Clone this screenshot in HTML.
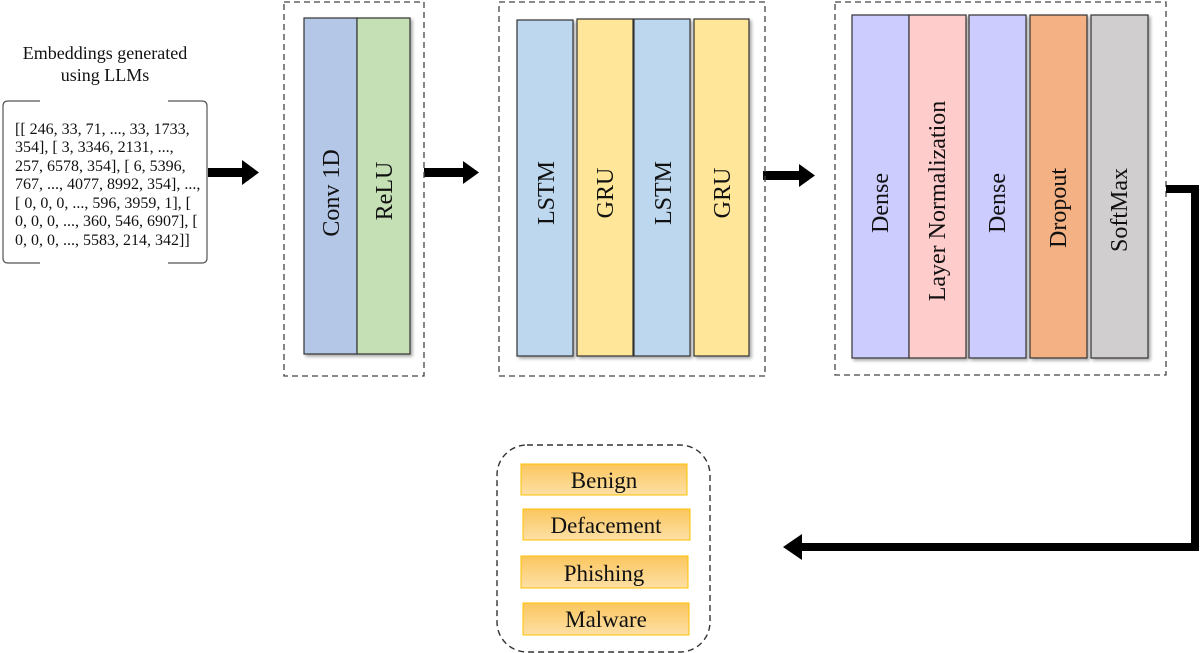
<!DOCTYPE html>
<html><head><meta charset="utf-8"><style>
html,body{margin:0;padding:0;background:#fff;}
svg{display:block;}
text{font-family:"Liberation Serif",serif;fill:#111;}
</style></head><body>
<svg width="1200" height="653" viewBox="0 0 1200 653" xmlns="http://www.w3.org/2000/svg">
<defs>
<linearGradient id="og" x1="0" y1="0" x2="0" y2="1"><stop offset="0" stop-color="#fbc65e"/><stop offset="1" stop-color="#fde0a6"/></linearGradient>
<filter id="sh" x="-10%" y="-5%" width="130%" height="110%"><feDropShadow dx="2" dy="2" stdDeviation="1.5" flood-color="#000" flood-opacity="0.35"/></filter>
</defs>
<!-- input -->
<text x="105" y="59" font-size="18" text-anchor="middle">Embeddings generated</text>
<text x="105" y="81" font-size="18" text-anchor="middle">using LLMs</text>
<path d="M40,101 L8,101 Q3,101 3,106 L3,258 Q3,263 8,263 L40,263" fill="none" stroke="#555" stroke-width="1.2"/>
<path d="M168,101 L202,101 Q207,101 207,106 L207,258 Q207,263 202,263 L168,263" fill="none" stroke="#555" stroke-width="1.2"/>
<g font-size="16" fill="#222">
<text x="15" y="134">[[ 246, 33, 71, ..., 33, 1733,</text>
<text x="15" y="152">354], [ 3, 3346, 2131, ...,</text>
<text x="15" y="171">257, 6578, 354], [ 6, 5396,</text>
<text x="15" y="189">767, ..., 4077, 8992, 354], ...,</text>
<text x="15" y="208">[ 0, 0, 0, ..., 596, 3959, 1], [</text>
<text x="15" y="226">0, 0, 0, ..., 360, 546, 6907], [</text>
<text x="15" y="245">0, 0, 0, ..., 5583, 214, 342]]</text>
</g>
<!-- arrows -->
<g fill="#000">
<rect x="208" y="168" width="36" height="9"/><polygon points="242,160 259,172.5 242,185"/>
<rect x="424" y="168" width="40" height="9"/><polygon points="463,161 479,172.5 463,184"/>
<rect x="763" y="171" width="38" height="9"/><polygon points="799,164 815,175.5 799,187"/>
</g>
<!-- box1 -->
<rect x="284" y="2" width="140" height="374" fill="none" stroke="#444" stroke-width="1.3" stroke-dasharray="6,4"/>
<g filter="url(#sh)" stroke="#333" stroke-width="1.2">
<rect x="304" y="18" width="53" height="336" fill="#b4c7e7"/>
<rect x="357" y="18" width="53" height="336" fill="#c5e0b4"/>
</g>
<g font-size="24" text-anchor="middle">
<text transform="translate(339,193) rotate(-90)">Conv 1D</text>
<text transform="translate(392,191) rotate(-90)">ReLU</text>
</g>
<!-- box2 -->
<rect x="499" y="2" width="266" height="374" fill="none" stroke="#444" stroke-width="1.3" stroke-dasharray="6,4"/>
<g filter="url(#sh)" stroke="#333" stroke-width="1.2">
<rect x="517" y="20" width="56" height="336" fill="#bdd7ee"/>
<rect x="577" y="19" width="56" height="337" fill="#ffe699"/>
<rect x="634" y="19" width="56" height="337" fill="#bdd7ee"/>
<rect x="694" y="19" width="55" height="337" fill="#ffe699"/>
</g>
<g font-size="24" text-anchor="middle">
<text transform="translate(554,193) rotate(-90)">LSTM</text>
<text transform="translate(613,193) rotate(-90)">GRU</text>
<text transform="translate(671,193) rotate(-90)">LSTM</text>
<text transform="translate(730,193) rotate(-90)">GRU</text>
</g>
<!-- box3 -->
<rect x="835" y="2" width="331" height="373" fill="none" stroke="#444" stroke-width="1.3" stroke-dasharray="6,4"/>
<g filter="url(#sh)" stroke="#333" stroke-width="1.2">
<rect x="852" y="15" width="57" height="343" fill="#ccccff"/>
<rect x="909" y="15" width="57" height="343" fill="#ffcccc"/>
<rect x="969" y="15" width="57" height="343" fill="#ccccff"/>
<rect x="1030" y="15" width="57" height="343" fill="#f4b183"/>
<rect x="1091" y="15" width="57" height="343" fill="#d0cece"/>
</g>
<g font-size="24" text-anchor="middle">
<text transform="translate(888,203) rotate(-90)">Dense</text>
<text transform="translate(945,201) rotate(-90)">Layer Normalization</text>
<text transform="translate(1005,203) rotate(-90)">Dense</text>
<text transform="translate(1066,208) rotate(-90)">Dropout</text>
<text transform="translate(1127,210) rotate(-90)">SoftMax</text>
</g>
<!-- output connector -->
<path d="M1166,189 L1195,189 L1195,547 L800,547" fill="none" stroke="#000" stroke-width="8"/>
<polygon points="802,534 783,547 802,560" fill="#000"/>
<!-- output box -->
<rect x="497" y="445" width="213" height="207" rx="30" fill="none" stroke="#333" stroke-width="1.4" stroke-dasharray="6,4"/>
<g stroke="#ffc000" stroke-width="1" fill="url(#og)">
<rect x="521" y="464" width="166" height="31"/>
<rect x="523" y="509" width="167" height="31"/>
<rect x="521" y="556" width="167" height="32"/>
<rect x="523" y="603" width="166" height="32"/>
</g>
<g font-size="23" text-anchor="middle">
<text x="604" y="488">Benign</text>
<text x="606" y="533">Defacement</text>
<text x="604" y="581">Phishing</text>
<text x="606" y="627">Malware</text>
</g>
</svg>
</body></html>
